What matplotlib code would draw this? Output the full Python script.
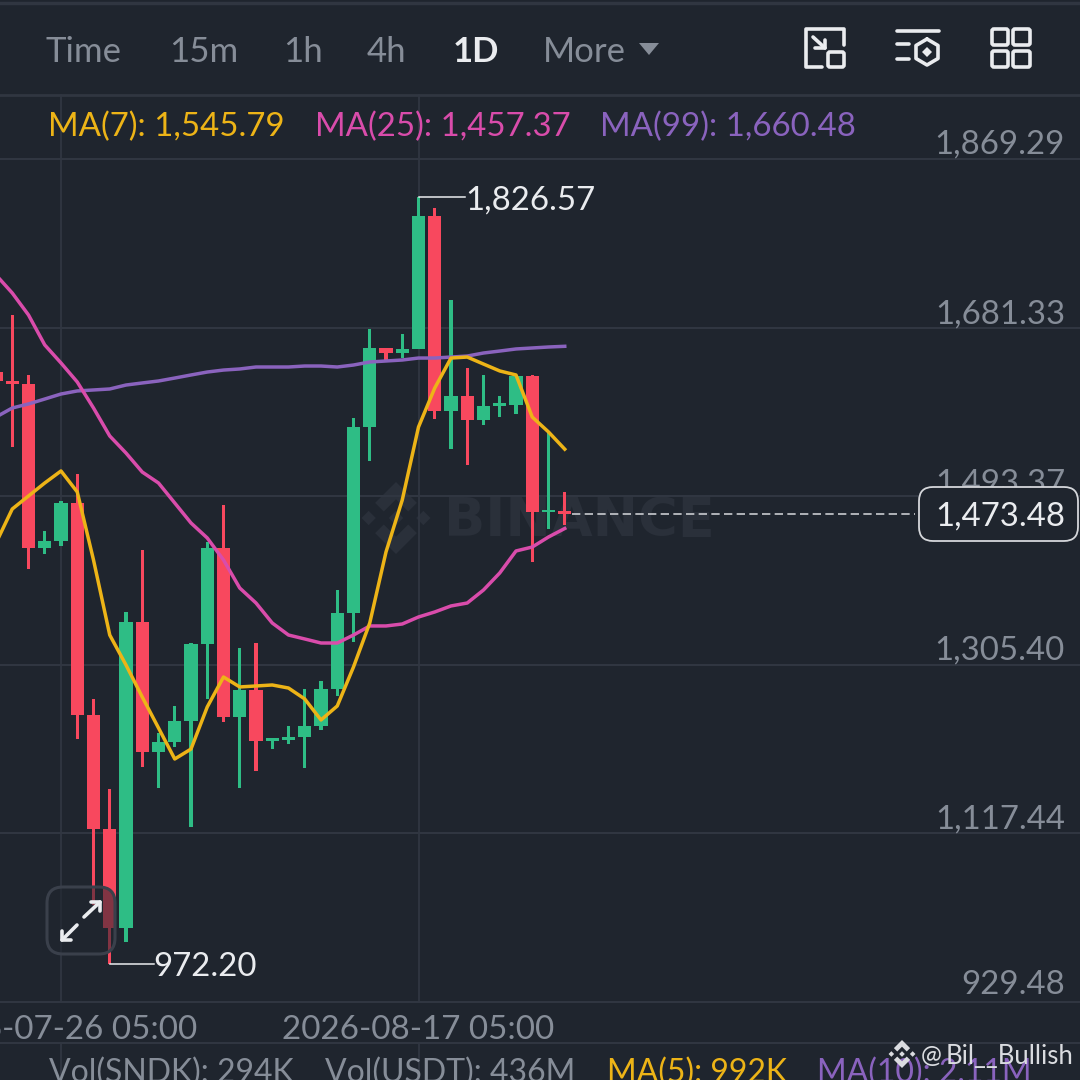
import numpy as np
import matplotlib
matplotlib.use("Agg")
import matplotlib.pyplot as plt
from matplotlib.patches import FancyBboxPatch, Polygon

plt.rcParams['font.family'] = ['Lato', 'DejaVu Sans']

# candles, one per day, 0 is 2026-07-26
days = np.arange(-4, 32)
opens = [1631.8, 1621.8, 1618.4, 1435.6, 1443.4, 1485.8, 1249.5, 1122.4, 1012.0, 1353.1,
         1208.2, 1219.4, 1242.8, 1328.6, 1435.6, 1247.2, 1277.3, 1220.5, 1222.0, 1224.9,
         1237.2, 1278.4, 1363.2, 1570.5, 1658.6, 1653.0, 1657.5, 1805.7, 1588.4, 1605.1,
         1578.3, 1593.9, 1595.0, 1627.4, 1475.8, 1476.9]
closes = [1621.8, 1618.4, 1435.6, 1443.4, 1485.8, 1249.5, 1122.4, 1012.0, 1353.1, 1208.2,
          1219.4, 1242.8, 1328.6, 1435.6, 1247.2, 1277.3, 1220.5, 1223.8, 1224.9, 1237.2,
          1278.4, 1363.2, 1570.5, 1658.6, 1653.0, 1657.5, 1805.7, 1588.4, 1605.1, 1578.3,
          1593.9, 1597.2, 1627.4, 1475.8, 1478.0, 1473.48]
highs = [1640.0, 1695.4, 1628.5, 1454.6, 1488.0, 1518.1, 1267.3, 1167.0, 1364.3, 1433.4,
         1229.4, 1259.5, 1329.7, 1442.3, 1483.5, 1324.1, 1329.7, 1223.8, 1237.2, 1278.4,
         1287.4, 1388.8, 1580.6, 1679.8, 1658.6, 1674.2, 1826.57, 1814.6, 1712.1, 1636.3,
         1628.5, 1605.1, 1628.0, 1628.5, 1563.8, 1498.1]
lows = [1615.0, 1548.2, 1412.2, 1428.9, 1437.9, 1222.7, 1037.6, 972.20, 996.4, 1191.5,
        1168.1, 1213.8, 1124.6, 1267.3, 1241.6, 1168.1, 1187.0, 1211.5, 1217.1, 1190.4,
        1232.7, 1270.6, 1330.8, 1532.6, 1645.2, 1647.4, 1657.5, 1579.4, 1546.0, 1528.2,
        1572.7, 1581.6, 1585.0, 1420.0, 1456.8, 1461.3]

ma7 = [1441.2, 1479.1, 1493.6, 1508.1, 1521.5, 1498.1, 1422.3, 1338.6, 1305.2, 1269.5,
       1235.0, 1200.4, 1211.5, 1258.4, 1291.8, 1280.7, 1281.8, 1282.9, 1279.5, 1267.3,
       1243.9, 1259.5, 1303.0, 1352.0, 1431.2, 1489.1, 1570.5, 1614.0, 1647.4, 1648.5,
       1640.7, 1633.0, 1628.5, 1581.6, 1565.0, 1545.79]
ma25 = [1740.0, 1719.9, 1695.4, 1662.0, 1641.9, 1620.7, 1591.7, 1560.5, 1541.5, 1520.3,
        1508.1, 1485.8, 1463.5, 1446.8, 1422.3, 1391.0, 1374.3, 1352.0, 1338.6, 1334.2,
        1329.7, 1329.7, 1338.6, 1348.7, 1348.7, 1350.9, 1358.7, 1364.3, 1371.0, 1374.3,
        1388.8, 1407.8, 1432.3, 1436.7, 1447.9, 1457.37]
ma99 = [1581.6, 1591.7, 1596.2, 1601.7, 1607.3, 1610.7, 1611.8, 1612.9, 1617.3, 1619.6,
        1621.8, 1625.1, 1628.5, 1631.8, 1634.0, 1635.2, 1637.4, 1637.4, 1637.4, 1638.5,
        1638.5, 1637.4, 1639.6, 1643.0, 1644.1, 1645.2, 1647.4, 1647.4, 1648.5, 1649.6,
        1653.0, 1655.2, 1657.5, 1658.6, 1659.7, 1660.48]

price_ticks = [1869.29, 1681.33, 1493.37, 1305.40, 1117.44, 929.48]
date_ticks = [0, 22]
date_labels = ["2026-07-26 05:00", "2026-08-17 05:00"]
last_price = 1473.48
tabs = ["Time", "15m", "1h", "4h", "1D", "More"]
ma_labels = ["MA(7): 1,545.79", "MA(25): 1,457.37", "MA(99): 1,660.48"]
vol_labels = ["Vol(SNDK): 294K", "Vol(USDT): 436M", "MA(5): 992K", "MA(10): 2.11M"]

BG = "#1F252E"
GRID = "#303641"
GREEN = "#2EBD85"
RED = "#F8485E"
YELLOW = "#EDB417"
PINK = "#D94CAB"
PURPLE = "#8A63BE"
GREY = "#868D98"
WHITE = "#EAECEF"

fig = plt.figure(figsize=(10.8, 10.8), dpi=100, facecolor=BG)

# chart axes fill the whole picture, scales taken from the grid lines
ax = fig.add_axes([0, 0, 1, 1], facecolor=BG)
px_day = 16.25
px_price = (price_ticks[0] - price_ticks[-1]) / (1002 - 159)
ax.set_xlim(-61 / px_day, (1080 - 61) / px_day)
ax.set_ylim(price_ticks[0] - (1080 - 159) * px_price, price_ticks[0] + 159 * px_price)
ax.axis("off")

# overlay in pixels for the app chrome
ui = fig.add_axes([0, 0, 1, 1], facecolor="none")
ui.set_xlim(0, 1080)
ui.set_ylim(1080, 0)
ui.axis("off")


def logo(a, cx, cy, r, color, z):
    top = np.array([(0, -1), (0.58, -0.42), (0.34, -0.18), (0, -0.52), (-0.34, -0.18), (-0.58, -0.42)])
    bottom = top * [1, -1]
    mid = np.array([(0, -0.2), (0.2, 0), (0, 0.2), (-0.2, 0)])
    for pts in [top, bottom, mid, mid + [0.76, 0], mid - [0.76, 0]]:
        a.add_patch(Polygon(pts * r + [cx, cy], closed=True, fc=color, ec="none", zorder=z))


# watermark sits under the candles
ui.set_zorder(1)
ax.set_zorder(2)
ax.patch.set_visible(False)
logo(ui, 396, 518, 36, "#2A303A", 1)
ui.text(444, 521, "BINANCE", color="#2A303A", fontsize=39, fontweight="bold", family="DejaVu Sans",
        va="center", ha="left", zorder=1)

# grid
for p in price_ticks:
    ax.axhline(p, color=GRID, lw=1.5, zorder=1)
for d in date_ticks:
    ax.plot([d, d], [price_ticks[0] + 64 * px_price, price_ticks[-1]], color=GRID, lw=1.3, zorder=1)
    ax.plot([d, d], [price_ticks[-1] - 41 * px_price, ax.get_ylim()[0]], color=GRID, lw=1.3, zorder=1)
ax.axhline(price_ticks[0] + 64 * px_price, color=GRID, lw=2, zorder=1)
ax.axhline(price_ticks[-1] - 41 * px_price, color=GRID, lw=1.5, zorder=1)
ax.axhline(price_ticks[0] + 156 * px_price, color=GRID, lw=2.5, zorder=1)

# candles
for d, o, c, h, l in zip(days, opens, closes, highs, lows):
    col = GREEN if c >= o else RED
    ax.bar(d, h - l, bottom=l, width=0.2, color=col, lw=0, zorder=3)
    ax.bar(d, abs(c - o), bottom=min(o, c), width=0.82, color=col, lw=0, zorder=3)

# moving averages
ax.plot(days, ma99, color=PURPLE, lw=2.5, zorder=4, solid_joinstyle="round")
ax.plot(days, ma25, color=PINK, lw=2.5, zorder=4, solid_joinstyle="round")
ax.plot(days, ma7, color=YELLOW, lw=2.5, zorder=4, solid_joinstyle="round")

# last price line
ax.plot([days[-1] + 0.45, 52.55], [last_price, last_price], color="#C9CBD0", lw=1.2,
        dashes=(5, 2.6), zorder=3)

# high / low labels
hi = max(highs)
lo = min(lows)
ax.plot([22, 24.85], [hi, hi], color=WHITE, lw=1.1, zorder=5)
ax.plot([3, 5.7], [lo, lo], color=WHITE, lw=1.1, zorder=5)
ax.text(24.85, hi, f"{hi:,.2f}", color=WHITE, fontsize=23.8, va="center_baseline", ha="left", zorder=5)
ax.text(5.7, lo, f"{lo:,.2f}", color=WHITE, fontsize=23.8, va="center_baseline", ha="left", zorder=5)

# price axis labels
for p, off in zip(price_ticks, [17, 16, 16, 17, 17, 20]):
    ax.text(1065 / 1080, p + off * px_price, f"{p:,.2f}", transform=ax.get_yaxis_transform(), color=GREY,
            fontsize=23.8, ha="right", va="center_baseline", zorder=2)

# date labels
for d, s in zip(date_ticks, date_labels):
    ax.text(d, price_ticks[-1] - 25 * px_price, s, color=GREY, fontsize=23.9, ha="center",
            va="center_baseline", zorder=2)

# everything below here is drawn on top, so a third pixel axes
top = fig.add_axes([0, 0, 1, 1], facecolor="none")
top.set_xlim(0, 1080)
top.set_ylim(1080, 0)
top.axis("off")
top.set_zorder(3)

# top tabs
for s, x in zip(tabs, [46, 169, 283, 367, 453, 543]):
    on = s == "1D"
    top.text(x, 49, s, color=WHITE if on else GREY, fontsize=25, fontweight="bold" if on else "normal",
             ha="left", va="center_baseline")
top.add_patch(Polygon([(639, 43), (659, 43), (649, 55)], closed=True, fc=GREY, ec="none"))

# MA legend
for s, x, col in zip(ma_labels, [48, 315, 600], [YELLOW, PINK, PURPLE]):
    top.text(x, 124, s, color=col, fontsize=23.8, ha="left", va="center_baseline")

# icons
lw_icon = 2.6


def line(xs, ys, col=WHITE, lw=lw_icon):
    top.plot(xs, ys, color=col, lw=lw, solid_capstyle="round", solid_joinstyle="round")


def box(x0, y0, x1, y1, col=WHITE, lw=lw_icon, r=2.0, fc="none"):
    top.add_patch(FancyBboxPatch((x0 + r, y0 + r), x1 - x0 - 2 * r, y1 - y0 - 2 * r,
                                 boxstyle=f"round,pad={r},rounding_size={r}", ec=col, fc=fc, lw=lw))


line([844, 844, 806, 806, 822], [45, 29, 29, 67, 67])
box(828, 52, 844, 67)
line([813, 825], [37, 48])
line([825, 825, 815], [40, 48, 48])

line([897, 939], [31, 31])
line([897, 909], [44, 44])
line([897, 909], [59, 59])
line([927, 938, 938, 927, 916, 916, 927], [39, 45.5, 58.5, 65, 58.5, 45.5, 39])
top.add_patch(Polygon([(927, 47), (932, 52), (927, 57), (922, 52)], closed=True, fc=WHITE, ec="none"))

box(992, 29, 1008, 45)
box(1013, 29, 1030, 45)
box(992, 51, 1008, 67)
box(1013, 51, 1030, 67)

# expand button
top.add_patch(FancyBboxPatch((61, 901), 40, 39, boxstyle="round,pad=14,rounding_size=16",
                             ec="#3A404B", fc=(0.12, 0.145, 0.18, 0.55), lw=2.2))
line([84, 100], [917, 902])
line([91, 100, 100], [902, 902, 911])
line([77, 62], [925, 940])
line([62, 62, 71], [931, 940, 940])

# last price box
box(919, 487, 1078, 541, col="#D5D7DB", lw=1.3, r=14, fc=BG)
top.text(1065, 514, f"{last_price:,.2f}", color=WHITE, fontsize=23.8, ha="right", va="center_baseline")

# volume row cut off at the bottom
for s, x, col in zip(vol_labels, [49, 325, 607, 817], [GREY, GREY, YELLOW, PURPLE]):
    top.text(x, 1082, s, color=col, fontsize=23, ha="left", va="baseline")

# author mark
logo(top, 902, 1054, 14, "#DADCE0", 5)
top.text(921, 1054, "@", color="#DADCE0", fontsize=18, ha="left", va="center_baseline", zorder=5)
top.text(946, 1054, "Bil__Bullish", color="#DADCE0", fontsize=18.5, ha="left", va="center_baseline", zorder=5)

fig.savefig("out.png", dpi=100, facecolor=BG)
